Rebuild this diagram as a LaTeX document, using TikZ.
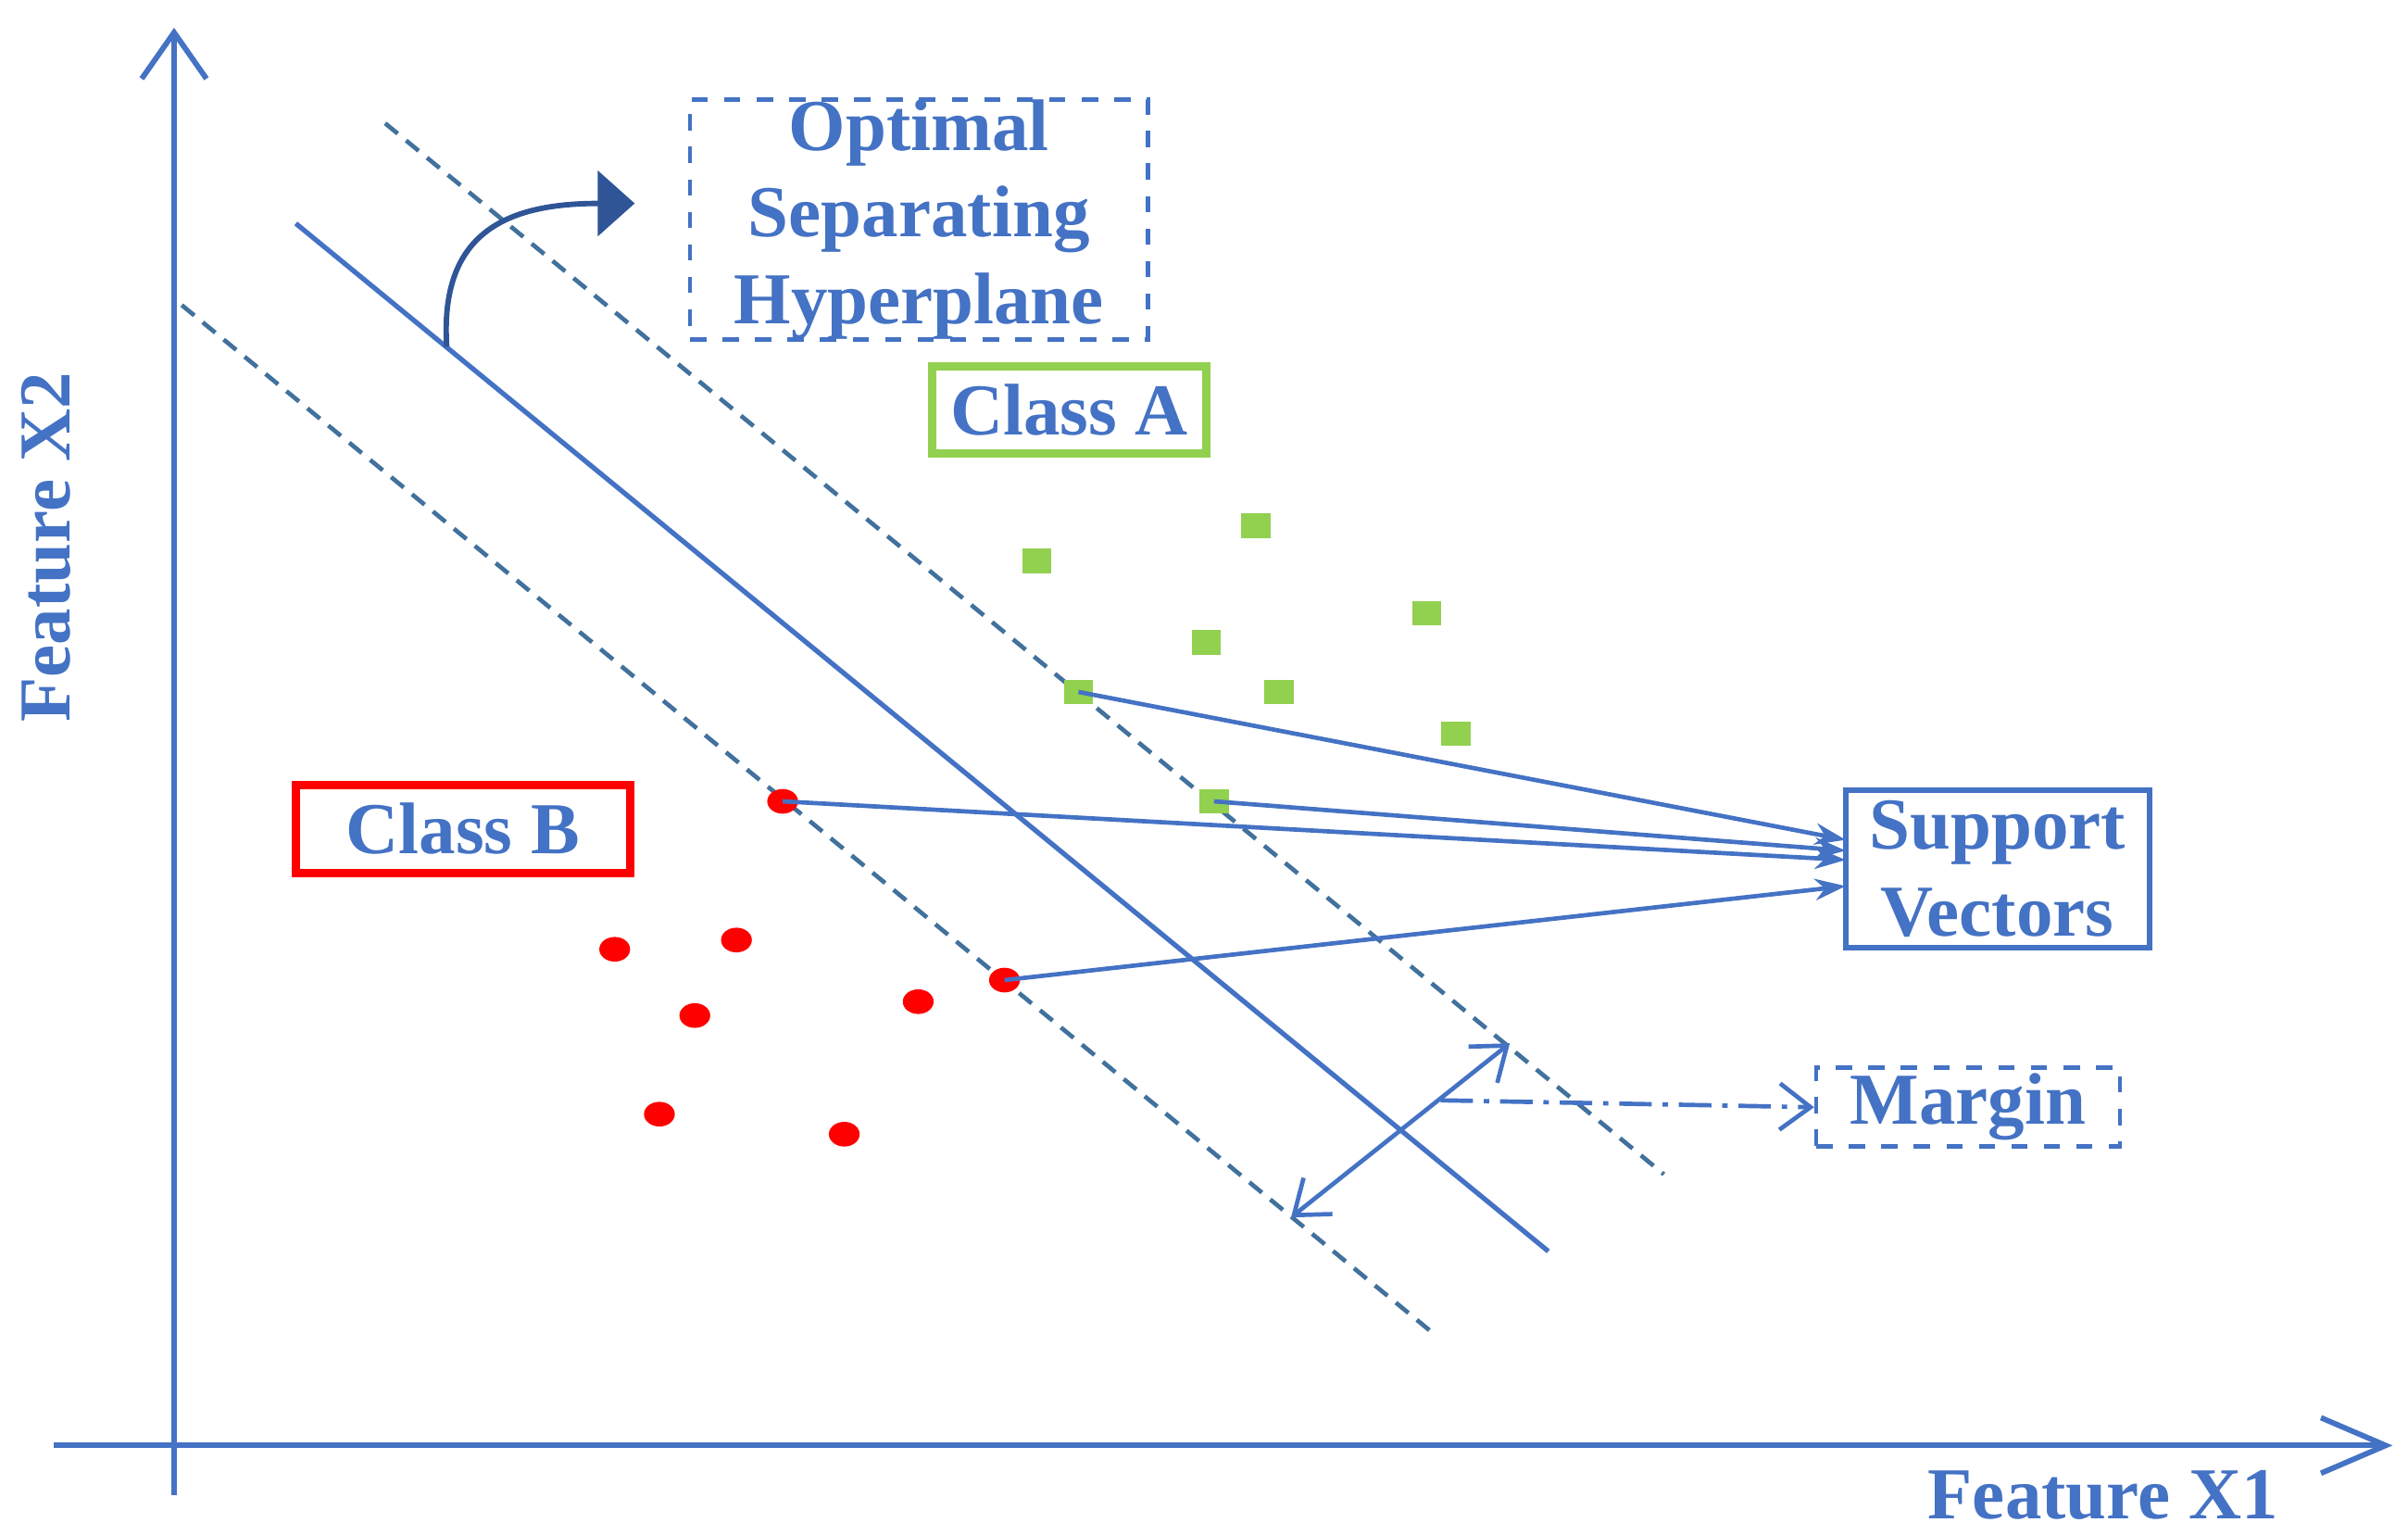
\documentclass[tikz,border=0pt]{standalone}
\usepackage{fontspec}
\setmainfont{Liberation Serif}
\usetikzlibrary{arrows.meta}
\definecolor{bl}{HTML}{4472C4}
\definecolor{dbl}{HTML}{41719C}
\definecolor{nav}{HTML}{2F5597}
\definecolor{gr}{HTML}{92D050}
\tikzset{
 px/.style={x=0.01cm,y=-0.01cm},
 lbl/.style={font=\fontsize{13.5}{16}\selectfont\bfseries,text=bl,align=center},
 sq/.style={fill=gr,minimum width=0.19cm,minimum height=0.16cm,inner sep=0pt},
 dot/.style={ellipse,fill=red,minimum width=0.2cm,minimum height=0.16cm,inner sep=0pt},
 svarr/.style={bl,line width=0.8pt,-{Stealth[length=0.2cm,width=0.14cm]}},
 dline/.style={dbl,line width=0.8pt,dash pattern=on 3pt off 2pt},
}
\usetikzlibrary{shapes.geometric}
\begin{document}
\begin{tikzpicture}[px]
\useasboundingbox (0,0) rectangle (1563,996);
% axes
\draw[bl,line width=1pt,-{Straight Barb[length=0.3cm,width=0.42cm]}] (113,970) -- (113,18);
\draw[bl,line width=1pt,-{Straight Barb[length=0.42cm,width=0.36cm]}] (35,938) -- (1553,938);
\node[lbl,rotate=90] (fx2) at (30,355) {Feature X2};
\node[lbl] (fx1) at (1365,970) {Feature X1};
% lines
\coordinate (h1) at (192,145); \coordinate (h2) at (1005,812);
\draw[bl,line width=0.9pt] (h1) -- (h2);
\coordinate (u1) at (250,80); \coordinate (u2) at (1080,762);
\draw[dline] (u1) -- (u2);
\coordinate (l1) at (118,198); \coordinate (l2) at (930,865);
\draw[dline] (l1) -- (l2);
% optimal box
\node[draw=bl,dashed,line width=0.8pt,lbl,minimum width=2.97cm,minimum height=1.25cm,inner sep=0pt] (opt) at (596.5,142.5) {Optimal\\Separating\\Hyperplane};
\coordinate (cs) at (290,225);
\coordinate (ce) at (412,132);
\draw[nav,line width=1pt,-{Triangle[length=0.24cm,width=0.42cm,fill=nav]}] (cs) .. controls (285,150) and (330,132) .. (ce);
% class boxes
\node[draw=gr,line width=1.6pt,lbl,minimum width=1.78cm,minimum height=0.52cm] (ca) at (694,266) {Class A};
\node[draw=red,line width=1.6pt,lbl,minimum width=2.17cm,minimum height=0.5cm] (cb) at (300.5,538) {Class B};
\node[draw=bl,line width=1pt,lbl,minimum width=1.97cm,minimum height=1.02cm,inner sep=0pt] (sv) at (1296.5,564) {Support\\Vectors};
\node[draw=bl,dashed,line width=0.8pt,lbl,minimum width=1.97cm,minimum height=0.51cm,inner sep=0pt] (mg) at (1277.5,718.5) {Margin};
% points
\foreach \n/\x/\y in {a1/673/364,a2/815/341,a3/783/417,a4/926/398,a5/700/449,a6/830/449,a7/945/476,a8/788/520}
 \node[sq] (\n) at (\x,\y) {};
\foreach \n/\x/\y in {b1/508/520,b2/399/616,b3/478/610,b4/451/659,b5/596/650,b6/652/636,b7/428/723,b8/548/736}
 \node[dot] (\n) at (\x,\y) {};
% support arrows
\coordinate (t1) at (1198,545); \coordinate (t2) at (1198,552);
\coordinate (t3) at (1198,558); \coordinate (t4) at (1198,575);
\draw[svarr] (a5.center) -- (t1);
\draw[svarr] (a8.center) -- (t2);
\draw[svarr] (b1.center) -- (t3);
\draw[svarr] (b6.center) -- (t4);
% margin
\coordinate (m1) at (838,790); \coordinate (m2) at (980,677);
\draw[bl,line width=0.8pt,{Straight Barb[length=0.2cm,width=0.3cm]}-{Straight Barb[length=0.2cm,width=0.3cm]}] (m1) -- (m2);
\coordinate (md) at (935,714);
\draw[bl,line width=0.8pt,dash pattern=on 6pt off 2pt on 1pt off 2pt,-{Straight Barb[length=0.2cm,width=0.3cm]}] (md) -- (mg.west);
\end{tikzpicture}
\end{document}
